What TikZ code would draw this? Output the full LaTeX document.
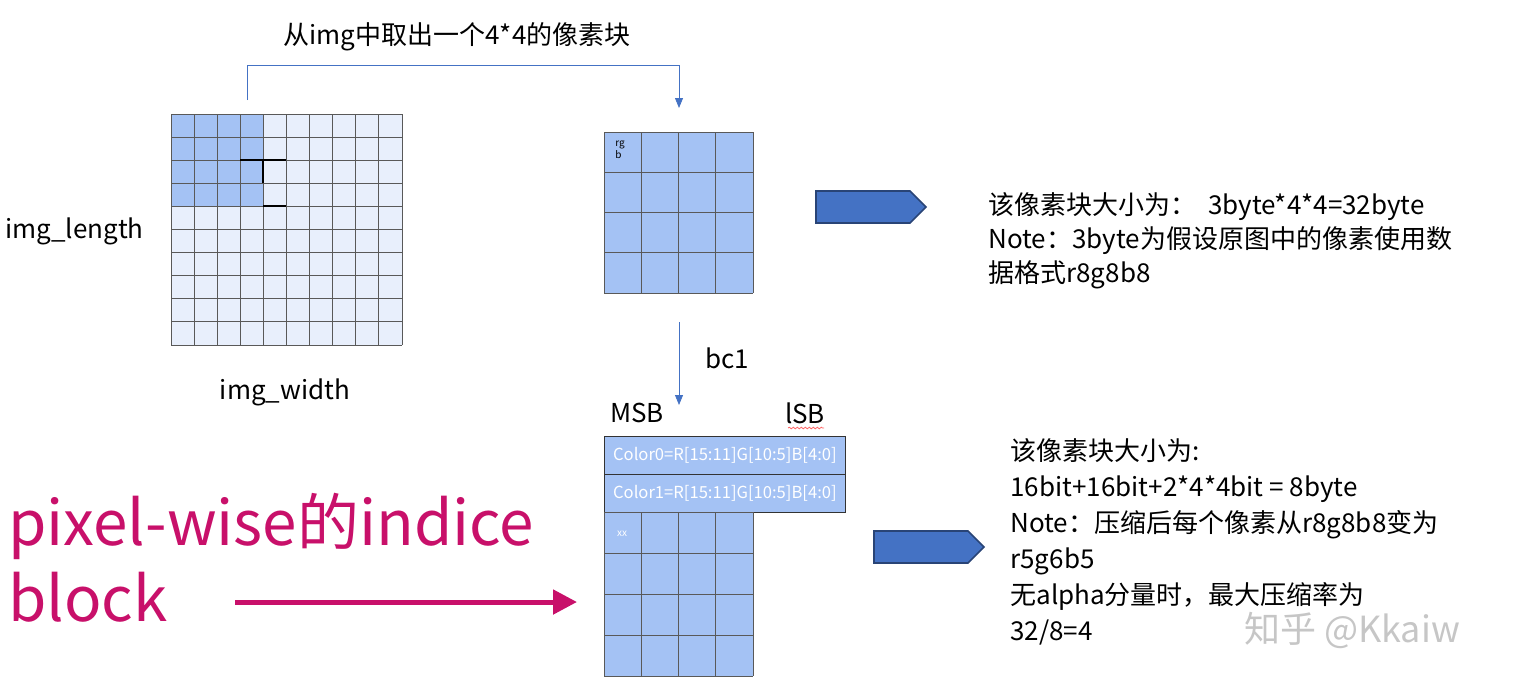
\documentclass[tikz,border=0pt]{standalone}
\usepackage{fontspec}
\setmainfont{Noto Sans CJK SC}
\usetikzlibrary{arrows.meta,shapes.arrows,decorations.pathmorphing}
\definecolor{dk}{HTML}{A4C2F4}
\definecolor{lt}{HTML}{E8EFFC}
\definecolor{ln}{HTML}{4472C4}
\definecolor{pk}{HTML}{C8106A}
\tikzset{x=0.5pt,y=-0.5pt,
 txt/.style={font=\fontsize{13}{15}\selectfont,inner sep=0pt},
 fat/.style={single arrow,draw=ln!60!black,fill=ln,minimum height=55pt,minimum width=16pt,single arrow head extend=0pt,single arrow head indent=0pt,inner sep=2.2pt,line width=0.8pt},
 cell/.style={draw=gray!70!black,line width=0.5pt}}
\begin{document}
\begin{tikzpicture}
\useasboundingbox (0,0) rectangle (1529,693);
% big grid
\fill[lt] (171,114) rectangle (402,345);
\fill[dk] (171,114) rectangle (263.4,206.4);
\foreach \i in {0,...,10}{
 \draw[cell] (171+\i*23.1,114) -- (171+\i*23.1,345);
 \draw[cell] (171,114+\i*23.1) -- (402,114+\i*23.1);}
\draw[line width=1pt] (240,160) -- (286,160) (263,160) -- (263,183) (263,206) -- (286,206);
\node[txt,anchor=west] (len) at (5,231) {img\_length};
\node[txt] (wid) at (285,392) {img\_width};
% small grid
\fill[dk] (604,132) rectangle (753,293);
\foreach \i in {0,...,4}{
 \draw[cell] (604+\i*37.25,132) -- (604+\i*37.25,293);
 \draw[cell] (604,132+\i*40.25) -- (753,132+\i*40.25);}
\node[font=\fontsize{5}{6}\selectfont,align=left,anchor=north west,inner sep=0pt] (rgb) at (615,141) {rg\\b};
% top connector
\coordinate (c1) at (247,100);
\coordinate (c2) at (679,108);
\draw[ln,-{Triangle[length=5pt,width=4pt]}] (c1) |- (463,65) -| (c2);
\node[txt] (t1) at (457,37) {从img中取出一个4*4的像素块};
% fat arrow 1
\node[fat] (fa1) at (863,207) {};
\node[txt,anchor=north west,align=left] (d1) at (988,192) {该像素块大小为：\ \ 3byte*4*4=32byte\\[2pt]Note：3byte为假设原图中的像素使用数\\[2pt]据格式r8g8b8};
% bc1
\coordinate (b1) at (679,322);
\coordinate (b2) at (679,405);
\draw[ln,-{Triangle[length=5pt,width=4pt]}] (b1) -- (b2);
\node[txt] (bc) at (727,358) {bc1};
\node[txt] (msb) at (637,413) {MSB};
\node[txt] (lsb) at (805,413) {lSB};
\draw[red!60,decorate,decoration={snake,amplitude=0.4pt,segment length=2pt}] (788,428) -- (824,428);
% color rows
\node[draw=gray!40!black,fill=dk,minimum width=120.5pt,minimum height=19pt,inner sep=0pt,anchor=north west,text=white,font=\fontsize{8.3}{9}\selectfont] (col0) at (604,436) {Color0=R[15:11]G[10:5]B[4:0]};
\node[draw=gray!40!black,fill=dk,minimum width=120.5pt,minimum height=19pt,inner sep=0pt,anchor=north west,text=white,font=\fontsize{8.3}{9}\selectfont] (col1) at (604,474) {Color1=R[15:11]G[10:5]B[4:0]};
\fill[dk] (604,512) rectangle (753,676);
\foreach \i in {0,...,4}{
 \draw[cell] (604+\i*37.25,512) -- (604+\i*37.25,676);
 \draw[cell] (604,512+\i*41) -- (753,512+\i*41);}
\node[font=\fontsize{5}{6}\selectfont,text=white,inner sep=0pt] (xx) at (622,534) {xx};
% fat arrow 2
\node[fat] (fa2) at (921,547) {};
\node[txt,anchor=north west,align=left,font=\fontsize{13}{18}\selectfont] (d2) at (1010,438) {该像素块大小为:\\16bit+16bit+2*4*4bit = 8byte\\Note：压缩后每个像素从r8g8b8变为\\r5g6b5\\无alpha分量时，最大压缩率为\\32/8=4};
% pink
\node[text=pk,font=\fontsize{31}{38}\selectfont,align=left,anchor=north west,inner sep=0pt] (pw) at (8,493) {pixel-wise的indice\\block};
\coordinate (p1) at (235,602);
\coordinate (p2) at (577,602);
\draw[pk,line width=2.5pt,-{Triangle[length=12pt,width=12pt]}] (p1) -- (p2);
\node[text=gray!45,font=\fontsize{18}{20}\selectfont] (wm) at (1352,630) {知乎 @Kkaiw};
\end{tikzpicture}
\end{document}
